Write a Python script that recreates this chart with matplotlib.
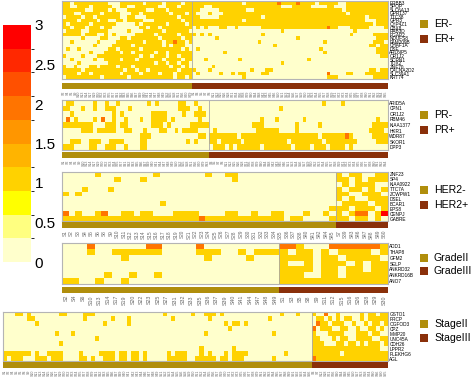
import matplotlib
matplotlib.use('Agg')
import matplotlib.pyplot as plt
from matplotlib.colors import ListedColormap, BoundaryNorm
from matplotlib.patches import Rectangle
import numpy as np

plt.rcParams['font.family'] = ['Liberation Sans', 'DejaVu Sans']

W, H = 474, 380

# colour scale (10 bands from 0 to 3)
levels = [0, 0.3, 0.6, 0.9, 1.2, 1.5, 1.8, 2.1, 2.4, 2.7, 3.0]
band_colors = ['#ffffcc', '#ffff80', '#ffff00', '#ffd200', '#ffb400',
               '#ff9600', '#ff7400', '#ff5000', '#ff2800', '#ff0000']
scale_ticks = [0, 0.5, 1, 1.5, 2, 2.5, 3]
scale_labels = ['0', '0.5', '1', '1.5', '2', '2.5', '3']

neg_color = '#b08e0c'
pos_color = '#8a300a'

# ---------------- ER panel ----------------
er_genes = ['ERBB3', 'SPOP', 'SLC6A13', 'GPR137', 'TTC38', 'GPR3', 'CYP4Z1',
            'CBX8', 'RAB3D', 'PGAP2', 'NDUFS8', 'FAM209B', 'CHAF1A', 'DSE',
            'ARL6IP5', 'OR1J2', 'SCRN1', 'TOX2', 'ZNF70', 'CACNA2D2',
            'SLC39A1', 'KRT74']
er_rows = [
    "1101111111 1100011111 1011110111 1011 | 1111111111 1110111111 1121111211 1101111100 1111111111 1",
    "1100111011 1110011001 1111100111 0111 | 1110011111 1111111111 1110001111 1000011000 1111111111 1",
    "1111110011 1101000111 1100111011 1111 | 1100000111 1111001111 1111111111 1111111110 1111111111 1",
    "1110011111 0111100011 0111111101 1101 | 1000100011 1111111111 1111111111 1111111111 0111111111 1",
    "0111101101 1111100110 0011111111 0111 | 1100000111 1111111101 1111111111 1111111111 1111101111 1",
    "1111011110 1100110111 1000111111 1011 | 1111111111 1110111111 1111111111 1111111111 1111100011 1",
    "1011111011 1111000001 0111111011 1101 | 1111111111 1111111111 1111111111 1111111111 1111111011 1",
    "1101110111 0110000000 1101101111 1111 | 0101000110 0100000011 1111111111 1111121100 0111110000 1",
    "0111100111 1100000100 0111110111 1110 | 0000000000 0000000000 0001000000 0000000000 0010000000 0",
    "1111101110 0101000001 1111011111 0111 | 1010100000 0000000010 0000000000 0000000000 0100000111 1",
    "0000010000 1100011011 1111101111 1011 | 0000001000 0000000000 0000000100 0000000000 0000000011 1",
    "0010000001 0000111111 1011110112 1101 | 0000000000 0000000100 0000000000 0000100000 0000000111 0",
    "0000000010 0001111101 1111110101 1100 | 0000000000 0000000000 0100000000 0000000000 0000001101 1",
    "0100100000 0011011111 0111111111 1010 | 0100000000 0000000000 0000000000 0001000000 0000000011 1",
    "0000000100 0111101101 1111011011 1111 | 0000000010 0000000000 0000000000 0000100000 0000000011 1",
    "1000010001 1111111111 0110111011 0111 | 0000000000 0000000000 0000000000 0000000000 0000000001 1",
    "0010000010 0111101110 1111110111 1011 | 0001000000 0010000000 0000000000 1000000000 0000000000 0",
    "0000100000 0011111111 1111011011 0110 | 0000000000 0000000000 0001000000 0000000000 0000000000 0",
    "1001000110 1111011101 1111111101 1010 | 0000010000 0000000000 0000000000 0000000000 0000000000 0",
    "1111101111 1111110110 1101111111 0111 | 1000100000 0000010001 1000000000 0000000000 0000001101 1",
    "1111011011 1111101111 0111101110 1111 | 0100000100 1011000011 0000000000 0000020000 1100011111 1",
    "0111111111 0111111011 1111111110 1101 | 0000000000 0001000000 0000000000 0000011100 0000000111 1",
]
er_neg = "2 4 6 9 10 13 14 17 19 20 22 23 25 27 31 32 33 35 36 37 39 40 41 44 47 48 49 52 55 58 61 66 70 79"
er_pos = ("1 3 5 7 8 11 12 15 16 18 21 24 26 28 29 30 34 38 42 43 45 46 50 51 53 54 56 57 59 60 "
          "62 63 64 65 67 68 69 71 72 73 74 75 76 77 78 80 81 82 83 84 85")

# ---------------- PR panel ----------------
pr_genes = ['ARID5A', 'CPN1', 'OR1J2', 'RBM46', 'KIAA1377', 'HKR1', 'WDR87', 'SKOR1', 'DPP3']
pr_rows = [
    "0110000010 0100100000 0010100000 11001000 | 0000000000 0000000000 0000000001 0000100000 000000",
    "1100010010 0111000100 0000000000 11100100 | 0000000000 0000000010 0000000000 0000000000 000000",
    "0010000000 0001010000 0001111000 01001110 | 0000000000 0000000000 0000000000 0000000000 000000",
    "0201000010 2001001000 1001111010 00000100 | 0000000000 0001000100 0000100000 0000000000 000100",
    "1111111100 0111011000 0001110100 00011111 | 0000000000 0111000000 0010000010 0000000000 001111",
    "0000011101 1111001100 0100011001 01111000 | 0100000000 0011111100 0010000000 0000000000 011110",
    "0000000000 0000000000 1110000000 00000110 | 1111111011 1111111111 1111111101 1111121000 001111",
    "0011100111 0011110000 1100000000 00101000 | 1101111101 1111111111 0111111110 1111111100 000111",
    "1110000110 0111001000 1100000000 00000000 | 0111010111 1110111111 1011110111 0111101000 000000",
]
pr_neg = ("1 2 4 6 9 10 13 14 17 19 20 22 23 24 25 27 31 32 33 35 36 37 39 40 41 44 47 48 49 50 "
          "52 55 58 61 66 70 79 83")
pr_pos = ("3 5 7 8 11 12 15 16 18 21 26 28 29 30 34 38 42 43 45 46 51 53 54 56 57 59 60 62 63 64 "
          "65 67 68 69 71 72 73 74 75 76 77 78 80 81 82 84")

# ---------------- HER2 panel ----------------
her2_genes = ['ZNF23', 'SP4', 'KIAA0922', 'TTC7A', 'ZCWPW1', 'DSEL', 'BCAR1', 'EPS8', 'CENPJ', 'GABRE']
her2_rows = [
    "0000010000 0000100000 0010011000 0000000000 00 | 10110011",
    "0000000010 0010000000 0000001000 0000000000 00 | 11010111",
    "0000000000 0000000000 0000000000 0000000000 00 | 01011100",
    "0001000100 0000000000 0000000000 0000000000 00 | 10110101",
    "1010000000 0000000000 0000000000 0000000000 00 | 11001110",
    "0000000000 0000000000 0000000000 0000000000 00 | 10100111",
    "0000000000 0000010000 0000000000 0000000000 00 | 01111011",
    "0000000000 0000000000 0000000000 0000000000 01 | 11011101",
    "2010012001 1011000111 1000011001 0011000100 10 | 10122013",
    "1111111111 1111111111 1211111111 1111011000 01 | 11011010",
]
her2_neg = ("1 2 3 4 5 6 8 9 10 11 12 13 14 15 16 17 18 19 20 21 22 23 24 25 26 27 28 29 30 31 "
            "32 33 34 35 36 37 38 40 41 42 44 45")
her2_pos = "7 39 43 46 47 48 49 50"

# ---------------- Grade panel ----------------
grade_genes = ['ADD1', 'THAP8', 'GFM2', 'SELP', 'ANKRD32', 'ANKRD16B', 'ANO7']
grade_rows = [
    "0002000000 2200002000 000000 | 2210002222221",
    "0001001111 1100001110 010111 | 1011010111101",
    "0000000100 0000000100 001000 | 1111011011110",
    "0000000000 0000000000 000000 | 1001011101011",
    "0000000000 0000000000 000000 | 1111011011011",
    "0000010010 0100000000 000000 | 1110011011111",
    "1100100100 0000000000 000000 | 1111111111111",
]
grade_neg = "2 4 6 10 13 14 17 19 20 22 23 25 27 31 32 33 35 36 37 39 40 41 44 47 48 49"
grade_pos = "1 3 5 8 9 11 12 15 16 26 28 29 30"

# ---------------- Stage panel ----------------
stage_genes = ['GSTO1', 'PRCP', 'OGFOD3', 'CPZ', 'MMP20', 'UNC45A', 'CDH26', 'LPPR2', 'PLEKHG6', 'AGL']
stage_rows = [
    "0001101000 0000110000 1110000000 0000000000 1000000100 1110100000 0000000001 0001000 | 1002001000001011011",
    "0000001100 0000000000 1000000100 0100000000 0010000000 0100000000 0000001000 0000000 | 0110101011001011111",
    "0000000010 0000000000 0000010000 0100000000 0000000000 0000010110 1000000000 0000000 | 0211011100100101101",
    "0000000000 0000000000 0000000000 0000000000 0000000000 0000001000 0000000000 0000000 | 2011100110010011010",
    "0000000000 0001000100 0000000000 0000000000 0000000000 1000000000 0000000100 0000000 | 1000111100011101100",
    "0000000000 0000000000 0001000000 0000000000 0000000000 0000000000 0000000000 0000000 | 1100010110011110011",
    "0000000000 0000100000 0000000000 0000000000 0000000000 0000000000 0000000000 0000000 | 1110001101101011101",
    "0000000000 0000000000 0000000000 0000000000 0000000001 0000000100 0000000000 0000000 | 1111111111111111100",
    "1111111010 0111100001 0000111101 1011010000 0101110001 0100010111 1000000000 1000000 | 1111111011111111111",
    "1011100011 1011100001 1010011101 1011010000 0111110011 1110110111 0000000100 0000000 | 2111111111111111111",
]
stage_neg = ("1 2 4 5 6 8 9 10 11 13 14 15 16 17 19 20 22 23 24 25 27 28 29 31 32 33 35 36 37 39 40 "
             "41 42 43 44 46 47 48 49 51 52 53 54 55 56 58 59 60 61 62 64 65 66 67 69 70 71 72 73 "
             "75 76 77 78 79 81 82 83 84 85 87 88 89 91 92 93 94 96")
stage_pos = "3 7 12 18 21 26 30 34 38 45 50 57 63 68 74 80 86 90 95"

cmap = ListedColormap(band_colors)
cmap.set_over(band_colors[-1])
norm = BoundaryNorm(levels, cmap.N)

fig = plt.figure(figsize=(W / 100, H / 100), dpi=100)
fig.patch.set_facecolor('white')


def rect(x0, y0, x1, y1):
    return [x0 / W, 1 - y1 / H, (x1 - x0) / W, (y1 - y0) / H]


def parse(rows):
    return np.array([[int(c) for c in r.replace(' ', '').replace('|', '')] for r in rows])


def panel(heat_box, bar_box, rows, genes, neg, pos, names, leg_y, samp_fs):
    data = parse(rows)
    neg = neg.split()
    pos = pos.split()
    samples = ['S' + s for s in neg + pos]

    ax = fig.add_axes(rect(*heat_box))
    ax.imshow(data, cmap=cmap, norm=norm, aspect='auto', interpolation='nearest')
    ax.axvline(len(neg) - 0.5, color='#a8a8a8', lw=0.6)
    ax.set_xticks([])
    ax.yaxis.tick_right()
    ax.set_yticks(range(len(genes)))
    ax.set_yticklabels(genes, fontsize=3.4)
    ax.tick_params(axis='y', length=0, pad=1)
    for s in ax.spines.values():
        s.set_color('#b4b4b4')
        s.set_linewidth(0.8)

    bx = fig.add_axes(rect(*bar_box))
    groups = np.array([[0] * len(neg) + [1] * len(pos)])
    bx.imshow(groups, cmap=ListedColormap([neg_color, pos_color]), vmin=0, vmax=1,
              aspect='auto', interpolation='nearest')
    bx.set_yticks([])
    bx.set_xticks(range(len(samples)))
    bx.set_xticklabels(samples, rotation=90, fontsize=samp_fs, color='#666666')
    bx.tick_params(axis='x', length=0, pad=1.5)
    for s in bx.spines.values():
        s.set_visible(False)

    for name, col, y in zip(names, [neg_color, pos_color], leg_y):
        fig.add_artist(Rectangle((420 / W, 1 - (y + 8) / H), 8 / W, 8 / H,
                                 transform=fig.transFigure, color=col, lw=0))
        fig.text(434 / W, 1 - (y + 4) / H, name, fontsize=7.6, va='center', ha='left')


panel((62, 1, 388, 79), (62, 83, 388, 89), er_rows, er_genes, er_neg, er_pos,
      ['ER-', 'ER+'], [20, 35], 2.6)
panel((62, 100, 388, 150), (62, 152, 388, 158), pr_rows, pr_genes, pr_neg, pr_pos,
      ['PR-', 'PR+'], [111, 126], 2.6)
panel((62, 172, 388, 221), (62, 222, 388, 228), her2_rows, her2_genes, her2_neg, her2_pos,
      ['HER2-', 'HER2+'], [186, 201], 3.4)
panel((62, 243, 388, 284), (62, 287, 388, 293), grade_rows, grade_genes, grade_neg, grade_pos,
      ['GradeII', 'GradeIII'], [254, 267], 3.8)
panel((3, 312, 388, 361), (3, 362, 388, 368), stage_rows, stage_genes, stage_neg, stage_pos,
      ['StageII', 'StageIII'], [320, 334], 2.6)

# colour bar
cax = fig.add_axes(rect(3, 25, 31, 262))
sm = plt.cm.ScalarMappable(cmap=cmap, norm=norm)
cb = fig.colorbar(sm, cax=cax, ticks=scale_ticks)
cb.outline.set_visible(False)
cb.set_ticklabels(scale_labels)
cax.tick_params(length=0, pad=2.5, labelsize=11)
for lab in cax.get_yticklabels():
    lab.set_family(['Liberation Sans Narrow', 'Liberation Sans', 'DejaVu Sans'])

fig.savefig('out.png', dpi=100)
